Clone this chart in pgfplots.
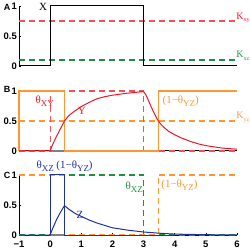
\documentclass[border=0pt]{standalone}
\usepackage{pgfplots}
\pgfplotsset{compat=1.18}
\usepackage{fontspec}
\setmainfont{Liberation Serif}
\setsansfont{Liberation Sans}
\definecolor{cred}{RGB}{235,25,35}
\definecolor{cdred}{RGB}{245,80,90}
\definecolor{corange}{RGB}{255,150,50}
\definecolor{cgreen}{RGB}{30,145,65}
\definecolor{cblue}{RGB}{30,50,160}
\newcommand{\sub}[1]{\raisebox{-3bp}{\fontsize{9}{9}\selectfont #1}}
\newcommand{\ksub}[1]{\raisebox{-2.5bp}{\fontsize{6}{6}\selectfont #1}}
\newcommand{\lab}{\fontsize{11}{11}\selectfont}
\pgfplotsset{
  panel/.style={scale only axis, width=218bp, height=60bp,
    xmin=-1, xmax=6, ymin=0, ymax=1, clip=false, anchor=south west,
    axis y line*=left, ytick={0,0.5,1}, yticklabels={0,0.5,1}, ytick pos=left,
    tick align=inside, major tick length=2bp,
    tick label style={font=\fontsize{9.5}{9.5}\selectfont\sffamily\bfseries},
    yticklabel style={inner sep=0pt, xshift=-2bp},
    xticklabel style={inner sep=0pt, yshift=-6bp},
    /pgf/number format/assume math mode=true,
    axis line style={line width=0.9bp,-},
    every tick/.style={black, line width=0.7bp},
    every node/.style={inner sep=0pt}},
  dsh/.style={dash pattern=on 6bp off 4bp, line width=1.2bp},
}
\begin{document}
\begin{tikzpicture}
% ---------------- Panel A
\begin{axis}[panel, at={(19bp,184bp)}, axis x line=none]
\addplot[cdred, dsh] coordinates {(-1,0.75)(6,0.75)};
\addplot[cgreen, dsh] coordinates {(-1,0.1)(6,0.1)};
\addplot[black, line width=1bp] coordinates {(-1,0)(0,0)(0,1)(3,1)(3,0)(6,0)};
\node[anchor=center] at (axis cs:-0.23,0.98) {\fontsize{11}{11}\selectfont X};
\node[anchor=base west, text=cred] at (axis cs:5.87,0.78) {\fontsize{10}{10}\selectfont K\ksub{xy}};
\node[anchor=base west, text=cgreen] at (axis cs:5.87,0.14) {\fontsize{10}{10}\selectfont K\ksub{xz}};
\node[anchor=west] at (axis cs:-1.6,0.97) {\fontsize{9}{9}\selectfont\sffamily\bfseries A};
\end{axis}
% ---------------- Panel B
\begin{axis}[panel, at={(19bp,99bp)}, axis x line=none]
\addplot[black, line width=1bp] coordinates {(-1,0)(6,0)};
\addplot[gray, line width=1.5bp] coordinates {(0,0)(0.46,0)};
\addplot[corange, dsh] coordinates {(-1,0.5)(6,0.5)};
\addplot[cdred, dsh] coordinates {(-1,0)(0,0)(0,1)(3,1)(3,0)(6,0)};
\addplot[corange, line width=1.3bp] coordinates {(-1,0)(-1,1)(0.46,1)(0.46,0)(3.47,0)(3.47,1)(6,1)};
\addplot[cred, line width=1bp] coordinates {
(-1,0)(0,0)(0.05,0.07)(0.1,0.13)(0.2,0.24)(0.3,0.34)(0.38,0.42)(0.46,0.5)(0.6,0.59)(0.8,0.67)(1,0.74)(1.25,0.81)(1.5,0.87)(1.75,0.905)(2,0.93)(2.5,0.965)(3,0.99)
(3.08,0.93)(3.16,0.84)(3.25,0.73)(3.35,0.62)(3.47,0.5)(3.6,0.42)(3.8,0.33)(4,0.27)(4.25,0.21)(4.5,0.16)(4.75,0.12)(5,0.09)(5.5,0.05)(6,0.03)};
\node[anchor=north west, text=cred] at (axis cs:-0.58,0.97) {\lab θ\sub{XY}};
\node[anchor=center, text=cred] at (axis cs:1.02,0.66) {\lab Y};
\node[anchor=north west, text=corange] at (axis cs:3.5,0.97) {\lab (1−θ\sub{YZ})};
\node[anchor=base west, text=corange] at (axis cs:5.87,0.54) {\fontsize{10}{10}\selectfont K\ksub{yz}};
\node[anchor=west] at (axis cs:-1.6,1.03) {\fontsize{9}{9}\selectfont\sffamily\bfseries B};
\end{axis}
% ---------------- Panel C
\begin{axis}[panel, at={(19bp,15bp)}, axis x line*=bottom, xtick={-1,0,1,2,3,4,5,6},
  xticklabels={−1,0,1,2,3,4,5,6}, xtick pos=bottom]
\addplot[gray, line width=1.5bp] coordinates {(0,0)(0.46,0)};
\addplot[cgreen, dsh] coordinates {(-1,0)(0,0)(0,1)(3,1)(3,0)(6,0)};
\addplot[corange, dsh] coordinates {(-1,1)(0.46,1)(0.46,0)(3.47,0)(3.47,1)(6,1)};
\addplot[cblue, line width=1bp] coordinates {(0,0)(0,1)(0.46,1)(0.46,0)(4,0)};
\addplot[cblue, line width=1bp] coordinates {
(-1,0)(0,0)(0.05,0.07)(0.1,0.13)(0.2,0.25)(0.3,0.35)(0.38,0.42)(0.46,0.49)(0.6,0.43)(0.8,0.36)(1,0.31)(1.25,0.25)(1.5,0.2)(1.75,0.16)(2,0.12)(2.5,0.08)(3,0.05)(3.5,0.03)(4,0.015)(5,0.005)(6,0)};
\node[anchor=north west, text=cblue] at (axis cs:-0.55,1.3) {\lab θ\sub{XZ} (1−θ\sub{YZ})};
\node[anchor=north west, text=cgreen] at (axis cs:2.31,0.95) {\lab θ\sub{XZ}};
\node[anchor=north west, text=corange] at (axis cs:3.46,0.97) {\lab (1−θ\sub{YZ})};
\node[anchor=center, text=cblue] at (axis cs:0.96,0.33) {\lab Z};
\node[anchor=west] at (axis cs:-1.6,1.0) {\fontsize{9}{9}\selectfont\sffamily\bfseries C};
\end{axis}
\pgfresetboundingbox
\path[use as bounding box] (0,0) rectangle (250bp,250bp);
\end{tikzpicture}
\end{document}
